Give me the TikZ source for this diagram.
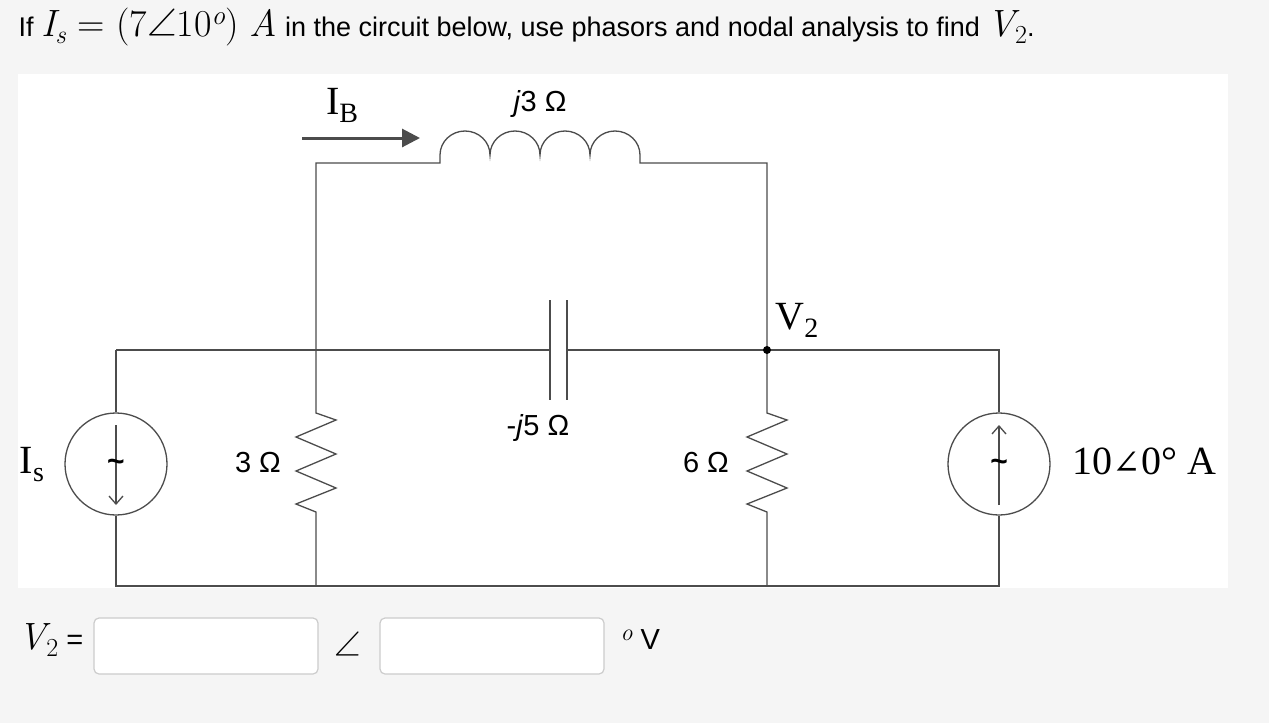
\documentclass[tikz,border=0pt]{standalone}
\usepackage{fontspec}
\setmainfont{Liberation Sans}
\newfontfamily\serifit{Liberation Serif}
\newfontfamily\lmr{Latin Modern Roman}
\newfontfamily\lmm{Latin Modern Math}
\newfontfamily\dvs{DejaVu Serif}
\newcommand{\myang}{{\dvs ∠}}
\newcommand{\mi}[1]{{\lmr\itshape #1}}
\usetikzlibrary{arrows.meta}
\begin{document}
\begin{tikzpicture}[x=1pt,y=-1pt,line width=1.3pt,
  wire/.style={draw=black!70,line width=1.3pt},
  lbl/.style={font=\fontsize{29}{30}\selectfont,inner sep=0pt},
  slbl/.style={font=\serifit\fontsize{40}{42}\selectfont,inner sep=0pt},
  ansbox/.style={draw=black!20,fill=white,rounded corners=5pt,line width=1.2pt}]
\useasboundingbox (0,0) rectangle (1269,723);
\fill[black!4] (0,0) rectangle (1269,723);
\fill[white] (18,74) rectangle (1228,588);
\node[anchor=west,inner sep=0pt,font=\fontsize{27}{30}\selectfont] (q) at (18,27) {If {\lmr\fontsize{38}{38}\selectfont\itshape I\raisebox{-7pt}{\fontsize{26}{26}\selectfont s}\upshape\ =\ (7{\lmm ∠}10\raisebox{12pt}{\fontsize{27}{27}\selectfont\itshape o}) \itshape A} in the circuit below, use phasors and nodal analysis to find {\lmr\fontsize{38}{38}\selectfont\itshape V\raisebox{-7pt}{\fontsize{26}{26}\selectfont\upshape 2}}.};
\coordinate (tl) at (116,350); \coordinate (tr) at (999,350);
\coordinate (bl) at (116,586); \coordinate (br) at (999,586);
\coordinate (n3t) at (316,163); \coordinate (n6t) at (767,163);
\coordinate (n3b) at (316,586); \coordinate (n6b) at (767,586);
\coordinate (v2) at (767,350);
\node[circle,draw=black!70,minimum size=102pt,line width=1.3pt,inner sep=0pt] (srcL) at (116,464) {};
\node[circle,draw=black!70,minimum size=102pt,line width=1.3pt,inner sep=0pt] (srcR) at (999,464) {};
\draw[wire] (tl) -- (srcL.north); \draw[wire] (srcL.south) -- (bl) -- (br) -- (srcR.south);
\draw[wire] (srcR.north) -- (tr) -- (567,350); \draw[wire] (550,350) -- (tl);
\draw[wire] (550,300) -- (550,400); \draw[wire] (567,300) -- (567,400);
\draw[wire,-{Straight Barb[length=8pt,width=14pt]}] (116,425) -- (116,505);
\draw[wire,-{Straight Barb[length=8pt,width=14pt]}] (999,505) -- (999,425);
\node[font=\fontsize{30}{30}\selectfont\bfseries,inner sep=0pt] (tL) at (116,465) {\textasciitilde};
\node[font=\fontsize{30}{30}\selectfont\bfseries,inner sep=0pt] (tR) at (999,465) {\textasciitilde};
\draw[wire] (n3b) -- (316,512) -- (296,504) -- (336,488) -- (296,471) -- (336,454) -- (296,437) -- (336,420) -- (316,413) -- (n3t) -- (440,163) -- (440,155)
  arc[start angle=180,end angle=360,x radius=25,y radius=24]
  arc[start angle=180,end angle=360,x radius=25,y radius=24]
  arc[start angle=180,end angle=360,x radius=25,y radius=24]
  arc[start angle=180,end angle=360,x radius=25,y radius=24] -- (640,163) -- (n6t) -- (v2);
\draw[wire] (v2) -- (767,413) -- (787,420) -- (747,437) -- (787,454) -- (747,471) -- (787,488) -- (747,504) -- (767,512) -- (n6b);
\fill (v2) circle (4pt);
\coordinate (ia) at (302,138); \coordinate (ib) at (420,138);
\draw[line width=3pt,black!70,-{Triangle[length=18pt,width=18pt]}] (ia) -- (ib);
\node[slbl] (lIB) at (342,105) {I\raisebox{-8pt}{\fontsize{28}{28}\selectfont B}};
\node[lbl] (lj3) at (540,104) {\textit{j}3 Ω};
\node[lbl] (lj5) at (538,428) {-\textit{j}5 Ω};
\node[lbl] (l3) at (258,463) {3 Ω};
\node[lbl] (l6) at (706,463) {6 Ω};
\node[slbl] (lv2) at (797,320) {V\raisebox{-8pt}{\fontsize{28}{28}\selectfont 2}};
\node[slbl] (lIs) at (32,465) {I\raisebox{-8pt}{\fontsize{28}{28}\selectfont s}};
\node[slbl,anchor=west] (l10) at (1072,461) {10{\fontsize{34}{34}\selectfont\myang}0° A};
\node[lbl,anchor=west] (ans) at (18,640) {{\lmr\fontsize{38}{38}\selectfont\itshape V\raisebox{-7pt}{\fontsize{26}{26}\selectfont\upshape 2}} =};
\draw[ansbox] (94,618) rectangle (318,674);
\node[inner sep=0pt] (ang) at (348,644) {\lmm\fontsize{34}{34}\selectfont ∠};
\draw[ansbox] (380,618) rectangle (604,674);
\node[lbl,anchor=west] (deg) at (620,640) {\raisebox{9pt}{\mi{\fontsize{24}{24}\selectfont o}} V};
\end{tikzpicture}
\end{document}
